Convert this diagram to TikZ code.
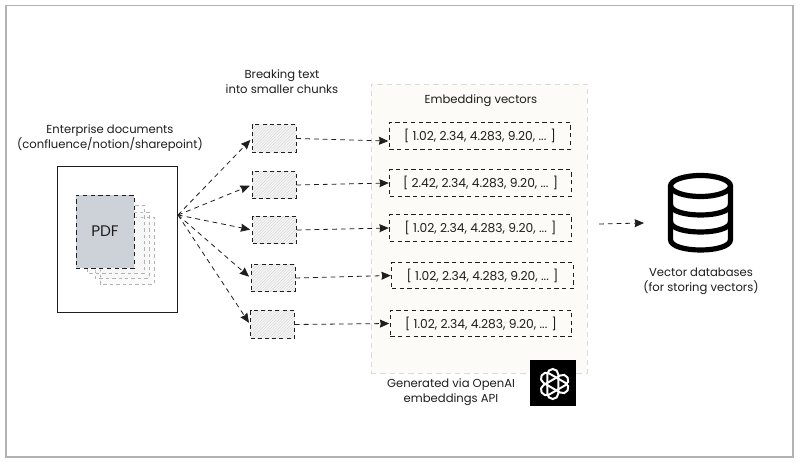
\documentclass[tikz,border=0pt]{standalone}
\usepackage{fontspec}
\setmainfont{Poppins}
\usetikzlibrary{arrows.meta,patterns.meta,shapes.geometric}
\definecolor{ink}{HTML}{1E1E1E}
\definecolor{panelfill}{HTML}{FDFBF7}
\definecolor{pdfgray}{HTML}{CDD1D8}
\tikzset{
 x=0.75pt,y=-0.75pt,
 lbl/.style={font=\fontsize{8.7}{11.2}\selectfont,text=ink,align=center,inner sep=0pt},
 vectxt/.style={font=\fontsize{9.2}{10}\selectfont,text=ink},
 chunkbox/.style={draw=ink,line width=0.6pt,dash pattern=on 3pt off 2.4pt,minimum width=33pt,minimum height=20.5pt,inner sep=0pt,
   preaction={fill=white!97!black},pattern={Lines[angle=45,distance=1.5pt,line width=0.3pt]},pattern color=black!18},
 vecbox/.style={draw=ink,line width=0.6pt,dash pattern=on 3.2pt off 2.6pt,minimum width=136pt,minimum height=20pt,inner sep=0pt,vectxt},
 conn/.style={draw=ink,line width=0.6pt,dash pattern=on 3.6pt off 3pt,-{Stealth[length=7pt,width=6pt,inset=0.6pt]}},
 ghost/.style={draw=black!30,line width=0.4pt,dash pattern=on 2.6pt off 2.2pt,pattern={Lines[angle=45,distance=1.5pt,line width=0.25pt]},pattern color=black!6},
}
\begin{document}
\begin{tikzpicture}
\useasboundingbox (0,0) rectangle (800,463);
\fill[white] (0,0) rectangle (800,463);
\draw[black!30,line width=0.9pt] (6,5.5) rectangle (793,457);
% panel
\node[draw=black!14,line width=0.6pt,dash pattern=on 4pt off 3pt,fill=panelfill,minimum width=162pt,minimum height=216.75pt,inner sep=0pt] (panel) at (479,228.5) {};
% document
\node[draw=ink,line width=0.6pt,minimum width=90pt,minimum height=109.5pt,inner sep=0pt,fill=white] (doc) at (117,239) {};
\draw[ghost] (100,217) rectangle (154,284);
\draw[ghost] (95,212) rectangle (149,278);
\draw[ghost] (87,205) rectangle (144,273);
\node[draw=ink,line width=0.7pt,dash pattern=on 3.2pt off 2.6pt,fill=pdfgray,minimum width=43.5pt,minimum height=54.75pt,inner sep=0pt,font=\fontsize{11.5}{12}\selectfont,text=ink] (pdf) at (105,231.5) {PDF};
% labels
\node[lbl] (ldoc) at (110,138.5) {Enterprise documents\\(confluence/notion/sharepoint)};
\node[lbl] (lchunk) at (282,81.5) {Breaking text\\into smaller chunks};
\node[lbl] (lemb) at (481,101) {Embedding vectors};
\node[lbl] (lgen) at (451,392) {Generated via OpenAI\\embeddings API};
\node[lbl] (ldb) at (701,281) {Vector databases\\(for storing vectors)};
% chunks
\node[chunkbox] (c1) at (274,138.5) {};
\node[chunkbox] (c2) at (274,185) {};
\node[chunkbox] (c3) at (274.5,230) {};
\node[chunkbox] (c4) at (273,278) {};
\node[chunkbox] (c5) at (272.5,324.5) {};
% vectors
\node[vecbox] (v1) at (480,136) {[ 1.02, 2.34, 4.283, 9.20, ... ]};
\node[vecbox] (v2) at (480.5,183) {[ 2.42, 2.34, 4.283, 9.20, ... ]};
\node[vecbox] (v3) at (480.5,228) {[ 1.02, 2.34, 4.283, 9.20, ... ]};
\node[vecbox] (v4) at (482.5,275.5) {[ 1.02, 2.34, 4.283, 9.20, ... ]};
\node[vecbox] (v5) at (481,323.5) {[ 1.02, 2.34, 4.283, 9.20, ... ]};
% connectors
\coordinate (hub) at (178,215);
\foreach \c in {c1,c2,c3,c4,c5}{\draw[conn,shorten >=1.5pt] (hub) -- (\c.west);}
\draw[conn,shorten >=0.5pt] (c1.east) -- ([yshift=-3.8pt]v1.west);
\foreach \i in {2,3,4,5}{\draw[conn,shorten >=0.5pt] (c\i.east) -- (v\i.west);}
\coordinate (dbfrom) at (599,224);
\coordinate (dbto) at (644,223);
\draw[conn] (dbfrom) -- (dbto);
% logo
\node[fill=black,minimum width=34pt,minimum height=34pt,inner sep=0pt] (logo) at (553,383) {};
\foreach \a in {30,150,270}{
 \draw[white,line width=1.5pt,rounded corners=4.1pt,rotate around={\a:(554,384)}] (539,379.7) rectangle (569,390.7);
}
% database
\draw[black,line width=3.9pt] (670.5,186) -- (670.5,239.5) .. controls (670.5,253.5) and (730.5,253.5) .. (730.5,239.5) -- (730.5,186);
\draw[black,line width=3.9pt] (700.5,186) ellipse[x radius=30,y radius=10.5];
\draw[black,line width=3.9pt] (670.5,204.5) .. controls (670.5,218.5) and (730.5,218.5) .. (730.5,204.5);
\draw[black,line width=3.9pt] (670.5,221.5) .. controls (670.5,235.5) and (730.5,235.5) .. (730.5,221.5);
\end{tikzpicture}
\end{document}
